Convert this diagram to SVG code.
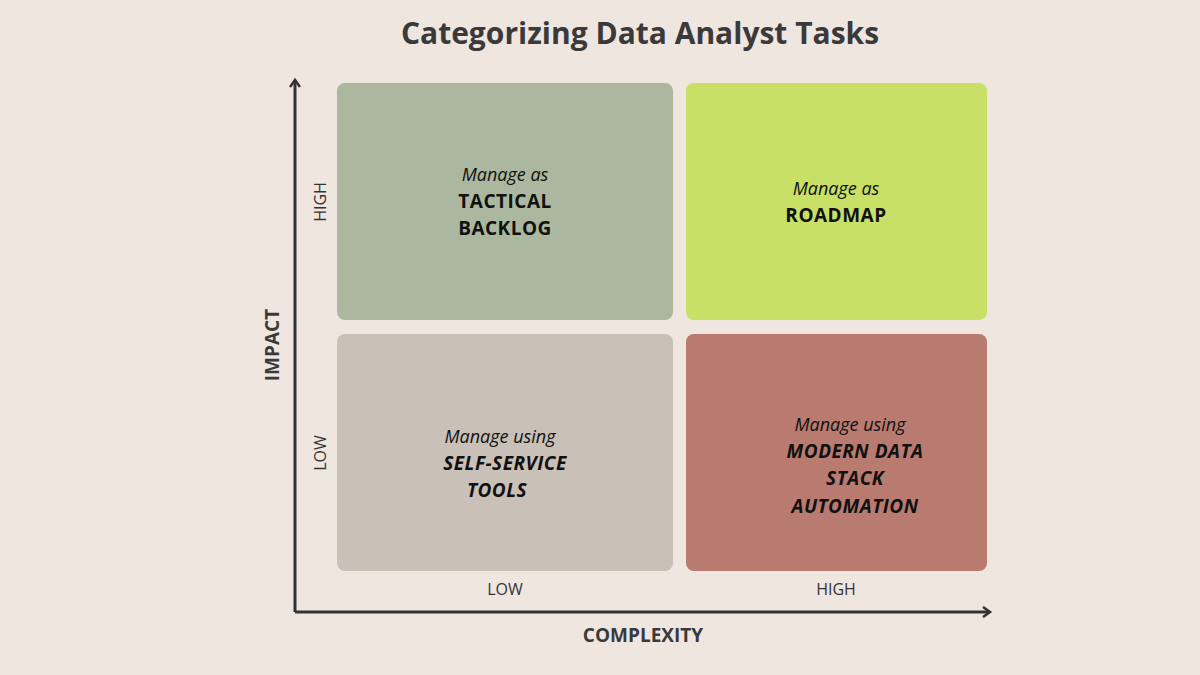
<svg xmlns="http://www.w3.org/2000/svg" width="1200" height="675" viewBox="0 0 1200 675">
<style>
text{font-family:"Open Sans","Liberation Sans",sans-serif;fill:#111;text-anchor:middle}
.t{font-size:30px;font-weight:bold;fill:#3a3a3a}
.i{font-size:18px;font-style:italic}
.b{font-size:19px;font-weight:bold;letter-spacing:0.5px}
.bi{font-size:19px;font-weight:bold;font-style:italic;letter-spacing:0.5px}
.a{font-size:16px;fill:#333}
.ab{font-size:19px;font-weight:bold;fill:#3a3a3a}
</style>
<defs><marker id="ar" markerWidth="12" markerHeight="12" refX="9" refY="6" orient="auto" markerUnits="userSpaceOnUse"><path d="M2,1 L9,6 L2,11" fill="none" stroke="#333" stroke-width="2.5"/></marker></defs>
<rect width="1200" height="675" fill="#efe6e0"/>
<text class="t" x="640" y="44">Categorizing Data Analyst Tasks</text>
<g id="connectors" stroke="#333" stroke-width="3" fill="none">
<path d="M295,612 V80" marker-end="url(#ar)"/>
<path d="M295,612 H990" marker-end="url(#ar)"/>
</g>
<g id="tl"><rect x="337" y="83" width="336" height="237" rx="8" fill="#abb89f"/>
<text class="i" x="505" y="181">Manage as</text><text class="b" x="505" y="208">TACTICAL</text><text class="b" x="505" y="235">BACKLOG</text></g>
<g id="tr"><rect x="686" y="83" width="301" height="237" rx="8" fill="#c8e065"/>
<text class="i" x="836" y="195">Manage as</text><text class="b" x="836" y="222">ROADMAP</text></g>
<g id="bl"><rect x="337" y="334" width="336" height="237" rx="8" fill="#c9c0b7"/>
<text class="i" x="500" y="443">Manage using</text><text class="bi" x="505" y="470">SELF-SERVICE</text><text class="bi" x="497" y="497">TOOLS</text></g>
<g id="br"><rect x="686" y="334" width="301" height="237" rx="8" fill="#b97a6f"/>
<text class="i" x="850" y="431">Manage using</text><text class="bi" x="855" y="458">MODERN DATA</text><text class="bi" x="855" y="485">STACK</text><text class="bi" x="855" y="513">AUTOMATION</text></g>
<g id="labels">
<text class="a" transform="translate(326,202) rotate(-90)">HIGH</text>
<text class="a" transform="translate(326,453) rotate(-90)">LOW</text>
<text class="ab" transform="translate(279,345) rotate(-90)">IMPACT</text>
<text class="a" x="505" y="595">LOW</text>
<text class="a" x="836" y="595">HIGH</text>
<text class="ab" x="643" y="642">COMPLEXITY</text>
</g>
</svg>
